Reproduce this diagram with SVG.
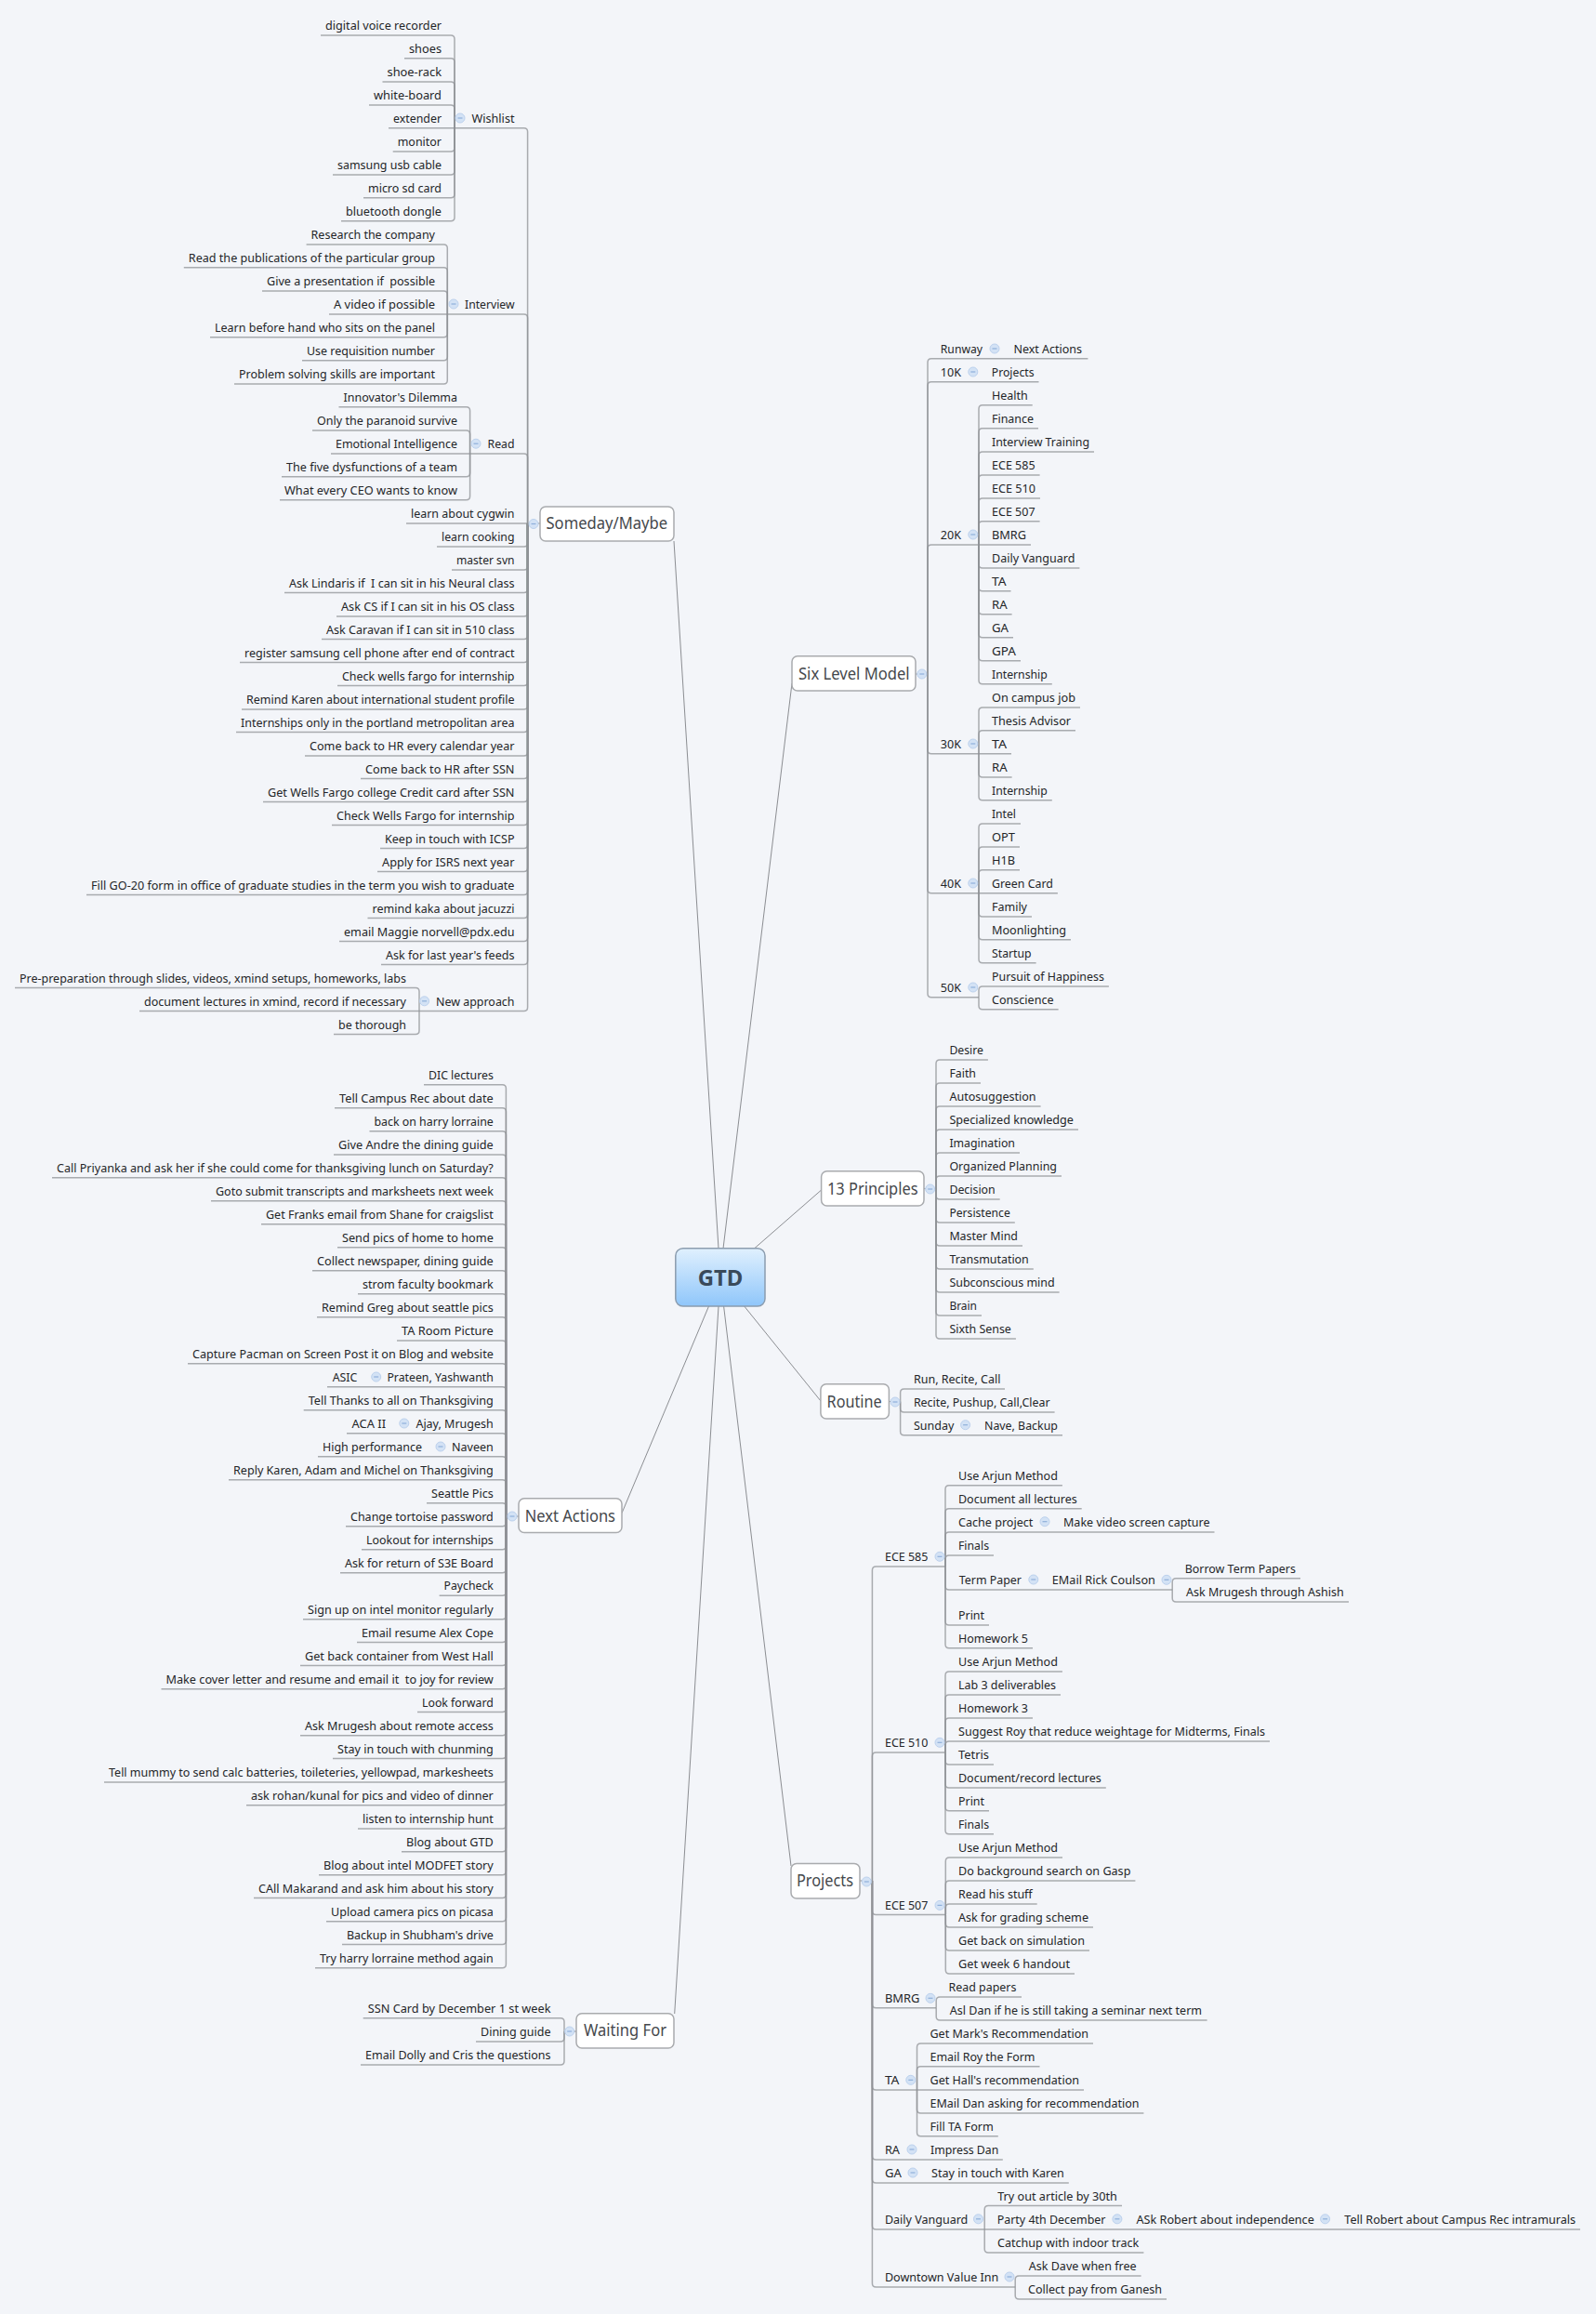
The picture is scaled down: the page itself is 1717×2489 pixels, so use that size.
<svg xmlns="http://www.w3.org/2000/svg" width="1717" height="2489" viewBox="0 0 1717 2489">
<style>
text{font-family:"Noto Sans","Open Sans","Liberation Sans",sans-serif;font-size:13px;fill:#232528;white-space:pre}
.t text{font-size:18px;fill:#45484c}
.t rect{fill:#fff;stroke:#a9abae;stroke-width:1.5}
#connectors path{fill:none;stroke:#8f9196;stroke-opacity:.75;stroke-width:1.5}
#connectors .m{stroke:#808286;stroke-opacity:.9;stroke-width:1}
#ic circle{fill:#d3e2f5;stroke:#bcd1ed;stroke-width:1}
#ic path{stroke:#8fb0da;stroke-width:1.2;fill:none}
</style>
<defs>
<linearGradient id="gt" x1="0" y1="0" x2="0" y2="1"><stop offset="0" stop-color="#e0f0fe"/><stop offset="1" stop-color="#8fc6fa"/></linearGradient>
<g id="ic"><circle r="5"/><path d="M-2.5 0H2.5"/></g>
</defs>
<rect width="1717" height="2489" fill="#f3f5f9"/>
<g id="connectors">
<path class="m" d="M725 582L773 1343"/><path class="m" d="M852 735L778 1343"/><path class="m" d="M883.6 1280L811.4 1343"/><path class="m" d="M883 1507L800.7 1405"/><path class="m" d="M669 1627.5L762.5 1405"/><path class="m" d="M851 2007L778.6 1405"/><path class="m" d="M725.7 2166L773 1405"/>
<path class="m" d="M581 563H567.6"/><path class="m" d="M985 725H998"/><path class="m" d="M994 1278.5H1007"/><path class="m" d="M956.4 1507.5H968.6"/><path class="m" d="M925 2023H938.4"/><path class="m" d="M558 1631H544.4"/><path class="m" d="M620 2185H607"/>
<path d="M567.6 563V141.8q0-4-4-4H489"/><path d="M567.6 563V341.9q0-4-4-4H481.3"/><path d="M567.6 563V492q0-4-4-4H505.6"/><path d="M567.6 563H437"/><path d="M567.6 563V583.9q0 4-4 4H470"/><path d="M567.6 563V608.9q0 4-4 4H486"/><path d="M567.6 563V633.5q0 4-4 4H306"/><path d="M567.6 563V658.9q0 4-4 4H362"/><path d="M567.6 563V683.5q0 4-4 4H346"/><path d="M567.6 563V708.5q0 4-4 4H258"/><path d="M567.6 563V733.5q0 4-4 4H363"/><path d="M567.6 563V758.9q0 4-4 4H260"/><path d="M567.6 563V783.5q0 4-4 4H254"/><path d="M567.6 563V808.9q0 4-4 4H328"/><path d="M567.6 563V833.5q0 4-4 4H388"/><path d="M567.6 563V858.5q0 4-4 4H283"/><path d="M567.6 563V883.5q0 4-4 4H357"/><path d="M567.6 563V908.5q0 4-4 4H409"/><path d="M567.6 563V933.5q0 4-4 4H406"/><path d="M567.6 563V958.5q0 4-4 4H93"/><path d="M567.6 563V983.5q0 4-4 4H395.5"/><path d="M567.6 563V1008.5q0 4-4 4H365"/><path d="M567.6 563V1033.5q0 4-4 4H410"/><path d="M567.6 563V1083.5q0 4-4 4H451"/>
<path d="M489 137.8V41.9q0-4-4-4H345"/><path d="M489 137.8V66.8q0-4-4-4H435"/><path d="M489 137.8V92q0-4-4-4H411.5"/><path d="M489 137.8V116.9q0-4-4-4H397"/><path d="M489 137.8H418"/><path d="M489 137.8V159q0 4-4 4H422.7"/><path d="M489 137.8V183.9q0 4-4 4H358"/><path d="M489 137.8V208.8q0 4-4 4H391"/><path d="M489 137.8V233.7q0 4-4 4H367"/>
<path d="M481.3 337.9V266.9q0-4-4-4H329.6"/><path d="M481.3 337.9V291.8q0-4-4-4H197.8"/><path d="M481.3 337.9V317q0-4-4-4H282"/><path d="M481.3 337.9H354"/><path d="M481.3 337.9V358.8q0 4-4 4H226"/><path d="M481.3 337.9V383.7q0 4-4 4H325"/><path d="M481.3 337.9V408.9q0 4-4 4H252"/>
<path d="M505.6 488V441.8q0-4-4-4H364.5"/><path d="M505.6 488V467q0-4-4-4H336"/><path d="M505.6 488H356"/><path d="M505.6 488V508.8q0 4-4 4H303"/><path d="M505.6 488V533.7q0 4-4 4H301"/>
<path d="M451 1087.5V1066.5q0-4-4-4H16"/><path d="M451 1087.5H150"/><path d="M451 1087.5V1108.5q0 4-4 4H359"/>
<path d="M544.4 1631V1170.8q0-4-4-4H456"/><path d="M544.4 1631V1195.8q0-4-4-4H360"/><path d="M544.4 1631V1220.8q0-4-4-4H397.5"/><path d="M544.4 1631V1246q0-4-4-4H359"/><path d="M544.4 1631V1270.8q0-4-4-4H56"/><path d="M544.4 1631V1295.8q0-4-4-4H227"/><path d="M544.4 1631V1320.8q0-4-4-4H281"/><path d="M544.4 1631V1345.8q0-4-4-4H363"/><path d="M544.4 1631V1370.8q0-4-4-4H336"/><path d="M544.4 1631V1395.8q0-4-4-4H385"/><path d="M544.4 1631V1420.8q0-4-4-4H341"/><path d="M544.4 1631V1446q0-4-4-4H427"/><path d="M544.4 1631V1470.8q0-4-4-4H202"/><path d="M544.4 1631V1495.8q0-4-4-4H352"/><path d="M544.4 1631V1520.8q0-4-4-4H326.7"/><path d="M544.4 1631V1545.8q0-4-4-4H373"/><path d="M544.4 1631V1570.8q0-4-4-4H342"/><path d="M544.4 1631V1595.8q0-4-4-4H246"/><path d="M544.4 1631V1620.8q0-4-4-4H459"/><path d="M544.4 1631V1637.8q0 4-4 4H372"/><path d="M544.4 1631V1662.8q0 4-4 4H389"/><path d="M544.4 1631V1687.8q0 4-4 4H366"/><path d="M544.4 1631V1712.2q0 4-4 4H472.6"/><path d="M544.4 1631V1737.7q0 4-4 4H326"/><path d="M544.4 1631V1762.5q0 4-4 4H384"/><path d="M544.4 1631V1787.6q0 4-4 4H323"/><path d="M544.4 1631V1812.7q0 4-4 4H173.5"/><path d="M544.4 1631V1837.5q0 4-4 4H449"/><path d="M544.4 1631V1862.7q0 4-4 4H323"/><path d="M544.4 1631V1887.5q0 4-4 4H358"/><path d="M544.4 1631V1913q0 4-4 4H112"/><path d="M544.4 1631V1937.7q0 4-4 4H265"/><path d="M544.4 1631V1962.9q0 4-4 4H385"/><path d="M544.4 1631V1987.7q0 4-4 4H432"/><path d="M544.4 1631V2012.8q0 4-4 4H343"/><path d="M544.4 1631V2037.6q0 4-4 4H273"/><path d="M544.4 1631V2062.7q0 4-4 4H351"/><path d="M544.4 1631V2087.5q0 4-4 4H368"/><path d="M544.4 1631V2112.7q0 4-4 4H339"/>
<path d="M607 2185V2174.7q0-4-4-4H390.7"/><path d="M607 2185V2192q0 4-4 4H512"/><path d="M607 2185V2217q0 4-4 4H388"/>
<path d="M998 725V389.7q0-4 4-4H1170.4"/><path d="M998 725V414.7q0-4 4-4H1117.5"/><path d="M998 725V590q0-4 4-4H1053"/><path d="M998 725V806.7q0 4 4 4H1053"/><path d="M998 725V956.7q0 4 4 4H1053"/><path d="M998 725V1068.7q0 4 4 4H1053"/>
<path d="M1053 586V439.7q0-4 4-4H1110.7"/><path d="M1053 586V464.7q0-4 4-4H1117"/><path d="M1053 586V490q0-4 4-4H1177"/><path d="M1053 586V515q0-4 4-4H1118.6"/><path d="M1053 586V540q0-4 4-4H1119"/><path d="M1053 586V564.7q0-4 4-4H1118.6"/><path d="M1053 586H1109"/><path d="M1053 586V607q0 4 4 4H1161.4"/><path d="M1053 586V631.7q0 4 4 4H1087.5"/><path d="M1053 586V656.7q0 4 4 4H1088.6"/><path d="M1053 586V681.7q0 4 4 4H1090"/><path d="M1053 586V706.7q0 4 4 4H1098"/><path d="M1053 586V731.7q0 4 4 4H1131.8"/>
<path d="M1053 810.7V765q0-4 4-4H1162"/><path d="M1053 810.7V789.7q0-4 4-4H1157"/><path d="M1053 810.7H1088"/><path d="M1053 810.7V832q0 4 4 4H1088.6"/><path d="M1053 810.7V856.7q0 4 4 4H1131.8"/>
<path d="M1053 960.7V890q0-4 4-4H1098"/><path d="M1053 960.7V915q0-4 4-4H1097"/><path d="M1053 960.7V939.7q0-4 4-4H1097"/><path d="M1053 960.7H1137.9"/><path d="M1053 960.7V982q0 4 4 4H1110"/><path d="M1053 960.7V1006.7q0 4 4 4H1152"/><path d="M1053 960.7V1031.7q0 4 4 4H1114.6"/>
<path d="M1053 1072.7V1065q0-4 4-4H1192.9"/><path d="M1053 1072.7V1081.7q0 4 4 4H1138.6"/>
<path d="M1007 1278.5V1144q0-4 4-4H1062.9"/><path d="M1007 1278.5V1169q0-4 4-4H1055"/><path d="M1007 1278.5V1194q0-4 4-4H1119.6"/><path d="M1007 1278.5V1219q0-4 4-4H1160"/><path d="M1007 1278.5V1244q0-4 4-4H1097"/><path d="M1007 1278.5V1269q0-4 4-4H1142"/><path d="M1007 1278.5V1286q0 4 4 4H1075.7"/><path d="M1007 1278.5V1311q0 4 4 4H1091.8"/><path d="M1007 1278.5V1336q0 4 4 4H1100"/><path d="M1007 1278.5V1361q0 4 4 4H1111.8"/><path d="M1007 1278.5V1386q0 4 4 4H1139.6"/><path d="M1007 1278.5V1411q0 4 4 4H1056"/><path d="M1007 1278.5V1436q0 4 4 4H1092.9"/>
<path d="M968.6 1507.5V1498q0-4 4-4H1081"/><path d="M968.6 1507.5V1515q0 4 4 4H1134.6"/><path d="M968.6 1507.5V1539.7q0 4 4 4H1143"/>
<path d="M938.4 2023V1689q0-4 4-4H1017"/><path d="M938.4 2023V1889q0-4 4-4H1017"/><path d="M938.4 2023V2055.5q0 4 4 4H1017.3"/><path d="M938.4 2023V2155.7q0 4 4 4H1007.2"/><path d="M938.4 2023V2244q0 4 4 4H986.5"/><path d="M938.4 2023V2319q0 4 4 4H1078.8"/><path d="M938.4 2023V2344q0 4 4 4H1149.8"/><path d="M938.4 2023V2394q0 4 4 4H1059.2"/><path d="M938.4 2023V2456q0 4 4 4H1092.2"/>
<path d="M1017 1685V1601.7q0-4 4-4H1142.9"/><path d="M1017 1685V1626.7q0-4 4-4H1163.7"/><path d="M1017 1685V1652q0-4 4-4H1306.5"/><path d="M1017 1685V1677q0-4 4-4H1069"/><path d="M1017 1685V1706q0 4 4 4H1261.2"/><path d="M1017 1685V1744q0 4 4 4H1064"/><path d="M1017 1685V1768.7q0 4 4 4H1111"/>
<path d="M1261.2 1710V1701.7q0-4 4-4H1399"/><path d="M1261.2 1710V1719q0 4 4 4H1451"/>
<path d="M1017 1885V1802q0-4 4-4H1142.9"/><path d="M1017 1885V1827q0-4 4-4H1141"/><path d="M1017 1885V1852q0-4 4-4H1111"/><path d="M1017 1885V1877q0-4 4-4H1366"/><path d="M1017 1885V1894q0 4 4 4H1069"/><path d="M1017 1885V1919q0 4 4 4H1189.8"/><path d="M1017 1885V1943.7q0 4 4 4H1064"/><path d="M1017 1885V1968.7q0 4 4 4H1069"/>
<path d="M1017.3 2059.5V2002q0-4 4-4H1143"/><path d="M1017.3 2059.5V2027q0-4 4-4H1221.4"/><path d="M1017.3 2059.5V2052q0-4 4-4H1115.7"/><path d="M1017.3 2059.5V2069q0 4 4 4H1176"/><path d="M1017.3 2059.5V2094q0 4 4 4H1172"/><path d="M1017.3 2059.5V2119q0 4 4 4H1156"/>
<path d="M1007.2 2159.7V2152q0-4 4-4H1099"/><path d="M1007.2 2159.7V2168.9q0 4 4 4H1298.6"/>
<path d="M986.5 2248V2201.9q0-4 4-4H1176"/><path d="M986.5 2248V2226.8q0-4 4-4H1118.5"/><path d="M986.5 2248H1166"/><path d="M986.5 2248V2269q0 4 4 4H1230.4"/><path d="M986.5 2248V2293.7q0 4 4 4H1073.8"/>
<path d="M1059.2 2398V2376.6q0-4 4-4H1207"/><path d="M1059.2 2398H1700"/><path d="M1059.2 2398V2419q0 4 4 4H1230.4"/>
<path d="M1092.2 2460V2451.9q0-4 4-4H1227.6"/><path d="M1092.2 2460V2469q0 4 4 4H1255"/>
</g>
<g id="icons">
<use href="#ic" x="574" y="563.5"/><use href="#ic" x="495" y="127"/><use href="#ic" x="488" y="327"/><use href="#ic" x="512" y="477.2"/><use href="#ic" x="456.6" y="1076.8"/>
<use href="#ic" x="551" y="1631"/><use href="#ic" x="404.7" y="1481"/><use href="#ic" x="434.8" y="1531"/><use href="#ic" x="474" y="1556"/><use href="#ic" x="612.7" y="2185"/>
<use href="#ic" x="991.8" y="725"/><use href="#ic" x="1070" y="375"/><use href="#ic" x="1046.8" y="400"/><use href="#ic" x="1046.8" y="575"/><use href="#ic" x="1046.8" y="800"/><use href="#ic" x="1046.8" y="950"/><use href="#ic" x="1046.8" y="1062"/>
<use href="#ic" x="1000.7" y="1279"/><use href="#ic" x="963" y="1508"/><use href="#ic" x="1038.6" y="1532.7"/>
<use href="#ic" x="932.3" y="2024"/><use href="#ic" x="1011" y="1674.3"/><use href="#ic" x="1124" y="1636.7"/><use href="#ic" x="1111.8" y="1699"/><use href="#ic" x="1255" y="1699.3"/><use href="#ic" x="1011" y="1874.3"/><use href="#ic" x="1011" y="2049.4"/><use href="#ic" x="1001" y="2149.3"/><use href="#ic" x="979.8" y="2237.3"/><use href="#ic" x="981" y="2312"/><use href="#ic" x="982" y="2337"/><use href="#ic" x="1052.5" y="2386.8"/><use href="#ic" x="1201.9" y="2386.8"/><use href="#ic" x="1425.6" y="2386.8"/><use href="#ic" x="1086" y="2449"/>
</g>
<g id="topics" class="t">
<g id="gtd"><rect x="726.8" y="1342.7" width="96.2" height="62.3" rx="8" style="fill:url(#gt);stroke:#8b9cae"/><text x="750.7" y="1382.5" textLength="48.6" lengthAdjust="spacingAndGlyphs" style="font-size:23px;font-weight:700;fill:#3a4a5a">GTD</text></g>
<g id="someday"><rect x="581" y="545" width="144" height="37" rx="6"/><text x="587.5" y="569" textLength="130.5" lengthAdjust="spacingAndGlyphs">Someday/Maybe</text></g>
<g id="sixlevel"><rect x="852" y="705.7" width="133" height="37.3" rx="6"/><text x="859" y="731" textLength="119.6" lengthAdjust="spacingAndGlyphs">Six Level Model</text></g>
<g id="principles"><rect x="883.6" y="1259.7" width="110.4" height="37.3" rx="6"/><text x="890" y="1284.5" textLength="97.5" lengthAdjust="spacingAndGlyphs">13 Principles</text></g>
<g id="routine"><rect x="882.9" y="1488.7" width="73.5" height="37.3" rx="6"/><text x="889.6" y="1513.5" textLength="59" lengthAdjust="spacingAndGlyphs">Routine</text></g>
<g id="projects"><rect x="851" y="2004.5" width="74" height="37.5" rx="6"/><text x="857" y="2029" textLength="61" lengthAdjust="spacingAndGlyphs">Projects</text></g>
<g id="nextactions"><rect x="558" y="1611.8" width="111" height="36.8" rx="6"/><text x="564.7" y="1636.5" textLength="97.3" lengthAdjust="spacingAndGlyphs">Next Actions</text></g>
<g id="waiting"><rect x="620" y="2165.7" width="105" height="37.3" rx="6"/><text x="628" y="2190" textLength="89" lengthAdjust="spacingAndGlyphs">Waiting For</text></g>
</g>
<g id="nodes" transform="translate(0 -6)">
<g id="n1"><text lengthAdjust="spacingAndGlyphs" x="507.5" y="137.8" textLength="46">Wishlist</text></g>
<g id="n2"><text lengthAdjust="spacingAndGlyphs" x="350" y="37.9" textLength="125">digital voice recorder</text></g>
<g id="n3"><text lengthAdjust="spacingAndGlyphs" x="440" y="62.8" textLength="35">shoes</text></g>
<g id="n4"><text lengthAdjust="spacingAndGlyphs" x="416.5" y="88" textLength="58.5">shoe-rack</text></g>
<g id="n5"><text lengthAdjust="spacingAndGlyphs" x="402" y="112.9" textLength="73">white-board</text></g>
<g id="n6"><text lengthAdjust="spacingAndGlyphs" x="423" y="137.8" textLength="52">extender</text></g>
<g id="n7"><text lengthAdjust="spacingAndGlyphs" x="427.7" y="163" textLength="47.3">monitor</text></g>
<g id="n8"><text lengthAdjust="spacingAndGlyphs" x="363" y="187.9" textLength="112">samsung usb cable</text></g>
<g id="n9"><text lengthAdjust="spacingAndGlyphs" x="396" y="212.8" textLength="79">micro sd card</text></g>
<g id="n10"><text lengthAdjust="spacingAndGlyphs" x="372" y="237.7" textLength="103">bluetooth dongle</text></g>
<g id="n11"><text lengthAdjust="spacingAndGlyphs" x="500" y="337.9" textLength="53.5">Interview</text></g>
<g id="n12"><text lengthAdjust="spacingAndGlyphs" x="334.6" y="262.9" textLength="133.4">Research the company</text></g>
<g id="n13"><text lengthAdjust="spacingAndGlyphs" x="202.8" y="287.8" textLength="265.2">Read the publications of the particular group</text></g>
<g id="n14"><text lengthAdjust="spacingAndGlyphs" x="287" y="313" textLength="181">Give a presentation if  possible</text></g>
<g id="n15"><text lengthAdjust="spacingAndGlyphs" x="359" y="337.9" textLength="109">A video if possible</text></g>
<g id="n16"><text lengthAdjust="spacingAndGlyphs" x="231" y="362.8" textLength="237">Learn before hand who sits on the panel</text></g>
<g id="n17"><text lengthAdjust="spacingAndGlyphs" x="330" y="387.7" textLength="138">Use requisition number</text></g>
<g id="n18"><text lengthAdjust="spacingAndGlyphs" x="257" y="412.9" textLength="211">Problem solving skills are important</text></g>
<g id="n19"><text lengthAdjust="spacingAndGlyphs" x="524.5" y="488" textLength="29">Read</text></g>
<g id="n20"><text lengthAdjust="spacingAndGlyphs" x="369.5" y="437.8" textLength="122.5">Innovator's Dilemma</text></g>
<g id="n21"><text lengthAdjust="spacingAndGlyphs" x="341" y="463" textLength="151">Only the paranoid survive</text></g>
<g id="n22"><text lengthAdjust="spacingAndGlyphs" x="361" y="488" textLength="131">Emotional Intelligence</text></g>
<g id="n23"><text lengthAdjust="spacingAndGlyphs" x="308" y="512.8" textLength="184">The five dysfunctions of a team</text></g>
<g id="n24"><text lengthAdjust="spacingAndGlyphs" x="306" y="537.7" textLength="186">What every CEO wants to know</text></g>
<g id="n25"><text lengthAdjust="spacingAndGlyphs" x="442" y="563" textLength="111.5">learn about cygwin</text></g>
<g id="n26"><text lengthAdjust="spacingAndGlyphs" x="475" y="587.9" textLength="78.5">learn cooking</text></g>
<g id="n27"><text lengthAdjust="spacingAndGlyphs" x="491" y="612.9" textLength="62.5">master svn</text></g>
<g id="n28"><text lengthAdjust="spacingAndGlyphs" x="311" y="637.5" textLength="242.5">Ask Lindaris if  I can sit in his Neural class</text></g>
<g id="n29"><text lengthAdjust="spacingAndGlyphs" x="367" y="662.9" textLength="186.5">Ask CS if I can sit in his OS class</text></g>
<g id="n30"><text lengthAdjust="spacingAndGlyphs" x="351" y="687.5" textLength="202.5">Ask Caravan if I can sit in 510 class</text></g>
<g id="n31"><text lengthAdjust="spacingAndGlyphs" x="263" y="712.5" textLength="290.5">register samsung cell phone after end of contract</text></g>
<g id="n32"><text lengthAdjust="spacingAndGlyphs" x="368" y="737.5" textLength="185.5">Check wells fargo for internship</text></g>
<g id="n33"><text lengthAdjust="spacingAndGlyphs" x="265" y="762.9" textLength="288.5">Remind Karen about international student profile</text></g>
<g id="n34"><text lengthAdjust="spacingAndGlyphs" x="259" y="787.5" textLength="294.5">Internships only in the portland metropolitan area</text></g>
<g id="n35"><text lengthAdjust="spacingAndGlyphs" x="333" y="812.9" textLength="220.5">Come back to HR every calendar year</text></g>
<g id="n36"><text lengthAdjust="spacingAndGlyphs" x="393" y="837.5" textLength="160.5">Come back to HR after SSN</text></g>
<g id="n37"><text lengthAdjust="spacingAndGlyphs" x="288" y="862.5" textLength="265.5">Get Wells Fargo college Credit card after SSN</text></g>
<g id="n38"><text lengthAdjust="spacingAndGlyphs" x="362" y="887.5" textLength="191.5">Check Wells Fargo for internship</text></g>
<g id="n39"><text lengthAdjust="spacingAndGlyphs" x="414" y="912.5" textLength="139.5">Keep in touch with ICSP</text></g>
<g id="n40"><text lengthAdjust="spacingAndGlyphs" x="411" y="937.5" textLength="142.5">Apply for ISRS next year</text></g>
<g id="n41"><text lengthAdjust="spacingAndGlyphs" x="98" y="962.5" textLength="455.5">Fill GO-20 form in office of graduate studies in the term you wish to graduate</text></g>
<g id="n42"><text lengthAdjust="spacingAndGlyphs" x="400.5" y="987.5" textLength="153">remind kaka about jacuzzi</text></g>
<g id="n43"><text lengthAdjust="spacingAndGlyphs" x="370" y="1012.5" textLength="183.5">email Maggie norvell@pdx.edu</text></g>
<g id="n44"><text lengthAdjust="spacingAndGlyphs" x="415" y="1037.5" textLength="138.5">Ask for last year's feeds</text></g>
<g id="n45"><text lengthAdjust="spacingAndGlyphs" x="469" y="1087.5" textLength="84.5">New approach</text></g>
<g id="n46"><text lengthAdjust="spacingAndGlyphs" x="21" y="1062.5" textLength="416">Pre-preparation through slides, videos, xmind setups, homeworks, labs</text></g>
<g id="n47"><text lengthAdjust="spacingAndGlyphs" x="155" y="1087.5" textLength="282">document lectures in xmind, record if necessary</text></g>
<g id="n48"><text lengthAdjust="spacingAndGlyphs" x="364" y="1112.5" textLength="73">be thorough</text></g>
<g id="n49"><text lengthAdjust="spacingAndGlyphs" x="461" y="1166.8" textLength="69.8">DIC lectures</text></g>
<g id="n50"><text lengthAdjust="spacingAndGlyphs" x="365" y="1191.8" textLength="165.8">Tell Campus Rec about date</text></g>
<g id="n51"><text lengthAdjust="spacingAndGlyphs" x="402.5" y="1216.8" textLength="128.3">back on harry lorraine</text></g>
<g id="n52"><text lengthAdjust="spacingAndGlyphs" x="364" y="1242" textLength="166.8">Give Andre the dining guide</text></g>
<g id="n53"><text lengthAdjust="spacingAndGlyphs" x="61" y="1266.8" textLength="469.8">Call Priyanka and ask her if she could come for thanksgiving lunch on Saturday?</text></g>
<g id="n54"><text lengthAdjust="spacingAndGlyphs" x="232" y="1291.8" textLength="298.8">Goto submit transcripts and marksheets next week</text></g>
<g id="n55"><text lengthAdjust="spacingAndGlyphs" x="286" y="1316.8" textLength="244.8">Get Franks email from Shane for craigslist</text></g>
<g id="n56"><text lengthAdjust="spacingAndGlyphs" x="368" y="1341.8" textLength="162.8">Send pics of home to home</text></g>
<g id="n57"><text lengthAdjust="spacingAndGlyphs" x="341" y="1366.8" textLength="189.8">Collect newspaper, dining guide</text></g>
<g id="n58"><text lengthAdjust="spacingAndGlyphs" x="390" y="1391.8" textLength="140.8">strom faculty bookmark</text></g>
<g id="n59"><text lengthAdjust="spacingAndGlyphs" x="346" y="1416.8" textLength="184.8">Remind Greg about seattle pics</text></g>
<g id="n60"><text lengthAdjust="spacingAndGlyphs" x="432" y="1442" textLength="98.8">TA Room Picture</text></g>
<g id="n61"><text lengthAdjust="spacingAndGlyphs" x="207" y="1466.8" textLength="323.8">Capture Pacman on Screen Post it on Blog and website</text></g>
<g id="n62"><text lengthAdjust="spacingAndGlyphs" x="357.7" y="1491.8" textLength="26.7">ASIC</text></g>
<g id="n63"><text lengthAdjust="spacingAndGlyphs" x="416.4" y="1491.8" textLength="114.4">Prateen, Yashwanth</text></g>
<g id="n64"><text lengthAdjust="spacingAndGlyphs" x="331.7" y="1516.8" textLength="199.1">Tell Thanks to all on Thanksgiving</text></g>
<g id="n65"><text lengthAdjust="spacingAndGlyphs" x="378.6" y="1541.8" textLength="36.4">ACA II</text></g>
<g id="n66"><text lengthAdjust="spacingAndGlyphs" x="447.4" y="1541.8" textLength="83.4">Ajay, Mrugesh</text></g>
<g id="n67"><text lengthAdjust="spacingAndGlyphs" x="347" y="1566.8" textLength="107">High performance</text></g>
<g id="n68"><text lengthAdjust="spacingAndGlyphs" x="486" y="1566.8" textLength="44.8">Naveen</text></g>
<g id="n69"><text lengthAdjust="spacingAndGlyphs" x="251" y="1591.8" textLength="279.8">Reply Karen, Adam and Michel on Thanksgiving</text></g>
<g id="n70"><text lengthAdjust="spacingAndGlyphs" x="464" y="1616.8" textLength="66.8">Seattle Pics</text></g>
<g id="n71"><text lengthAdjust="spacingAndGlyphs" x="377" y="1641.8" textLength="153.8">Change tortoise password</text></g>
<g id="n72"><text lengthAdjust="spacingAndGlyphs" x="394" y="1666.8" textLength="136.8">Lookout for internships</text></g>
<g id="n73"><text lengthAdjust="spacingAndGlyphs" x="371" y="1691.8" textLength="159.8">Ask for return of S3E Board</text></g>
<g id="n74"><text lengthAdjust="spacingAndGlyphs" x="477.6" y="1716.2" textLength="53.2">Paycheck</text></g>
<g id="n75"><text lengthAdjust="spacingAndGlyphs" x="331" y="1741.7" textLength="199.8">Sign up on intel monitor regularly</text></g>
<g id="n76"><text lengthAdjust="spacingAndGlyphs" x="389" y="1766.5" textLength="141.8">Email resume Alex Cope</text></g>
<g id="n77"><text lengthAdjust="spacingAndGlyphs" x="328" y="1791.6" textLength="202.8">Get back container from West Hall</text></g>
<g id="n78"><text lengthAdjust="spacingAndGlyphs" x="178.5" y="1816.7" textLength="352.3">Make cover letter and resume and email it  to joy for review</text></g>
<g id="n79"><text lengthAdjust="spacingAndGlyphs" x="454" y="1841.5" textLength="76.8">Look forward</text></g>
<g id="n80"><text lengthAdjust="spacingAndGlyphs" x="328" y="1866.7" textLength="202.8">Ask Mrugesh about remote access</text></g>
<g id="n81"><text lengthAdjust="spacingAndGlyphs" x="363" y="1891.5" textLength="167.8">Stay in touch with chunming</text></g>
<g id="n82"><text lengthAdjust="spacingAndGlyphs" x="117" y="1917" textLength="413.8">Tell mummy to send calc batteries, toileteries, yellowpad, markesheets</text></g>
<g id="n83"><text lengthAdjust="spacingAndGlyphs" x="270" y="1941.7" textLength="260.8">ask rohan/kunal for pics and video of dinner</text></g>
<g id="n84"><text lengthAdjust="spacingAndGlyphs" x="390" y="1966.9" textLength="140.8">listen to internship hunt</text></g>
<g id="n85"><text lengthAdjust="spacingAndGlyphs" x="437" y="1991.7" textLength="93.8">Blog about GTD</text></g>
<g id="n86"><text lengthAdjust="spacingAndGlyphs" x="348" y="2016.8" textLength="182.8">Blog about intel MODFET story</text></g>
<g id="n87"><text lengthAdjust="spacingAndGlyphs" x="278" y="2041.6" textLength="252.8">CAll Makarand and ask him about his story</text></g>
<g id="n88"><text lengthAdjust="spacingAndGlyphs" x="356" y="2066.7" textLength="174.8">Upload camera pics on picasa</text></g>
<g id="n89"><text lengthAdjust="spacingAndGlyphs" x="373" y="2091.5" textLength="157.8">Backup in Shubham's drive</text></g>
<g id="n90"><text lengthAdjust="spacingAndGlyphs" x="344" y="2116.7" textLength="186.8">Try harry lorraine method again</text></g>
<g id="n91"><text lengthAdjust="spacingAndGlyphs" x="395.7" y="2170.7" textLength="196.8">SSN Card by December 1 st week</text></g>
<g id="n92"><text lengthAdjust="spacingAndGlyphs" x="517" y="2196" textLength="75.5">Dining guide</text></g>
<g id="n93"><text lengthAdjust="spacingAndGlyphs" x="393" y="2221" textLength="199.5">Email Dolly and Cris the questions</text></g>
<g id="n94"><text lengthAdjust="spacingAndGlyphs" x="1011.8" y="385.7" textLength="45.2">Runway</text></g>
<g id="n95"><text lengthAdjust="spacingAndGlyphs" x="1090.4" y="385.7" textLength="73.6">Next Actions</text></g>
<g id="n96"><text lengthAdjust="spacingAndGlyphs" x="1011.8" y="410.7" textLength="22.2">10K</text></g>
<g id="n97"><text lengthAdjust="spacingAndGlyphs" x="1066.8" y="410.7" textLength="45.7">Projects</text></g>
<g id="n98"><text lengthAdjust="spacingAndGlyphs" x="1011.8" y="586" textLength="22.2">20K</text></g>
<g id="n99"><text lengthAdjust="spacingAndGlyphs" x="1067" y="435.7" textLength="38.7">Health</text></g>
<g id="n100"><text lengthAdjust="spacingAndGlyphs" x="1067" y="460.7" textLength="45">Finance</text></g>
<g id="n101"><text lengthAdjust="spacingAndGlyphs" x="1067" y="486" textLength="105">Interview Training</text></g>
<g id="n102"><text lengthAdjust="spacingAndGlyphs" x="1067" y="511" textLength="46.6">ECE 585</text></g>
<g id="n103"><text lengthAdjust="spacingAndGlyphs" x="1067" y="536" textLength="47">ECE 510</text></g>
<g id="n104"><text lengthAdjust="spacingAndGlyphs" x="1067" y="560.7" textLength="46.6">ECE 507</text></g>
<g id="n105"><text lengthAdjust="spacingAndGlyphs" x="1067" y="586" textLength="37">BMRG</text></g>
<g id="n106"><text lengthAdjust="spacingAndGlyphs" x="1067" y="611" textLength="89.4">Daily Vanguard</text></g>
<g id="n107"><text lengthAdjust="spacingAndGlyphs" x="1067" y="635.7" textLength="15.5">TA</text></g>
<g id="n108"><text lengthAdjust="spacingAndGlyphs" x="1067" y="660.7" textLength="16.6">RA</text></g>
<g id="n109"><text lengthAdjust="spacingAndGlyphs" x="1067" y="685.7" textLength="18">GA</text></g>
<g id="n110"><text lengthAdjust="spacingAndGlyphs" x="1067" y="710.7" textLength="26">GPA</text></g>
<g id="n111"><text lengthAdjust="spacingAndGlyphs" x="1067" y="735.7" textLength="59.8">Internship</text></g>
<g id="n112"><text lengthAdjust="spacingAndGlyphs" x="1011.8" y="810.7" textLength="22.2">30K</text></g>
<g id="n113"><text lengthAdjust="spacingAndGlyphs" x="1067" y="761" textLength="90">On campus job</text></g>
<g id="n114"><text lengthAdjust="spacingAndGlyphs" x="1067" y="785.7" textLength="85">Thesis Advisor</text></g>
<g id="n115"><text lengthAdjust="spacingAndGlyphs" x="1067" y="810.7" textLength="16">TA</text></g>
<g id="n116"><text lengthAdjust="spacingAndGlyphs" x="1067" y="836" textLength="16.6">RA</text></g>
<g id="n117"><text lengthAdjust="spacingAndGlyphs" x="1067" y="860.7" textLength="59.8">Internship</text></g>
<g id="n118"><text lengthAdjust="spacingAndGlyphs" x="1011.8" y="960.7" textLength="22.2">40K</text></g>
<g id="n119"><text lengthAdjust="spacingAndGlyphs" x="1067" y="886" textLength="26">Intel</text></g>
<g id="n120"><text lengthAdjust="spacingAndGlyphs" x="1067" y="911" textLength="25">OPT</text></g>
<g id="n121"><text lengthAdjust="spacingAndGlyphs" x="1067" y="935.7" textLength="25">H1B</text></g>
<g id="n122"><text lengthAdjust="spacingAndGlyphs" x="1067" y="960.7" textLength="65.9">Green Card</text></g>
<g id="n123"><text lengthAdjust="spacingAndGlyphs" x="1067" y="986" textLength="38">Family</text></g>
<g id="n124"><text lengthAdjust="spacingAndGlyphs" x="1067" y="1010.7" textLength="80">Moonlighting</text></g>
<g id="n125"><text lengthAdjust="spacingAndGlyphs" x="1067" y="1035.7" textLength="42.6">Startup</text></g>
<g id="n126"><text lengthAdjust="spacingAndGlyphs" x="1011.8" y="1072.7" textLength="22.2">50K</text></g>
<g id="n127"><text lengthAdjust="spacingAndGlyphs" x="1067" y="1061" textLength="120.9">Pursuit of Happiness</text></g>
<g id="n128"><text lengthAdjust="spacingAndGlyphs" x="1067" y="1085.7" textLength="66.6">Conscience</text></g>
<g id="n129"><text lengthAdjust="spacingAndGlyphs" x="1021.4" y="1140" textLength="36.5">Desire</text></g>
<g id="n130"><text lengthAdjust="spacingAndGlyphs" x="1021.4" y="1165" textLength="28.6">Faith</text></g>
<g id="n131"><text lengthAdjust="spacingAndGlyphs" x="1021.4" y="1190" textLength="93.2">Autosuggestion</text></g>
<g id="n132"><text lengthAdjust="spacingAndGlyphs" x="1021.4" y="1215" textLength="133.6">Specialized knowledge</text></g>
<g id="n133"><text lengthAdjust="spacingAndGlyphs" x="1021.4" y="1240" textLength="70.6">Imagination</text></g>
<g id="n134"><text lengthAdjust="spacingAndGlyphs" x="1021.4" y="1265" textLength="115.6">Organized Planning</text></g>
<g id="n135"><text lengthAdjust="spacingAndGlyphs" x="1021.4" y="1290" textLength="49.3">Decision</text></g>
<g id="n136"><text lengthAdjust="spacingAndGlyphs" x="1021.4" y="1315" textLength="65.4">Persistence</text></g>
<g id="n137"><text lengthAdjust="spacingAndGlyphs" x="1021.4" y="1340" textLength="73.6">Master Mind</text></g>
<g id="n138"><text lengthAdjust="spacingAndGlyphs" x="1021.4" y="1365" textLength="85.4">Transmutation</text></g>
<g id="n139"><text lengthAdjust="spacingAndGlyphs" x="1021.4" y="1390" textLength="113.2">Subconscious mind</text></g>
<g id="n140"><text lengthAdjust="spacingAndGlyphs" x="1021.4" y="1415" textLength="29.6">Brain</text></g>
<g id="n141"><text lengthAdjust="spacingAndGlyphs" x="1021.4" y="1440" textLength="66.5">Sixth Sense</text></g>
<g id="n142"><text lengthAdjust="spacingAndGlyphs" x="982.9" y="1494" textLength="93.5">Run, Recite, Call</text></g>
<g id="n143"><text lengthAdjust="spacingAndGlyphs" x="982.9" y="1519" textLength="146.7">Recite, Pushup, Call,Clear</text></g>
<g id="n144"><text lengthAdjust="spacingAndGlyphs" x="983" y="1543.7" textLength="43.4">Sunday</text></g>
<g id="n145"><text lengthAdjust="spacingAndGlyphs" x="1059" y="1543.7" textLength="78.9">Nave, Backup</text></g>
<g id="n146"><text lengthAdjust="spacingAndGlyphs" x="952" y="1685" textLength="46.4">ECE 585</text></g>
<g id="n147"><text lengthAdjust="spacingAndGlyphs" x="1031" y="1597.7" textLength="106.9">Use Arjun Method</text></g>
<g id="n148"><text lengthAdjust="spacingAndGlyphs" x="1031" y="1622.7" textLength="127.7">Document all lectures</text></g>
<g id="n149"><text lengthAdjust="spacingAndGlyphs" x="1031" y="1648" textLength="80.4">Cache project</text></g>
<g id="n150"><text lengthAdjust="spacingAndGlyphs" x="1144" y="1648" textLength="157.6">Make video screen capture</text></g>
<g id="n151"><text lengthAdjust="spacingAndGlyphs" x="1031" y="1673" textLength="33">Finals</text></g>
<g id="n152"><text lengthAdjust="spacingAndGlyphs" x="1031.8" y="1710" textLength="67.2">Term Paper</text></g>
<g id="n153"><text lengthAdjust="spacingAndGlyphs" x="1131.8" y="1710" textLength="111.1">EMail Rick Coulson</text></g>
<g id="n154"><text lengthAdjust="spacingAndGlyphs" x="1274.7" y="1697.7" textLength="119.2">Borrow Term Papers</text></g>
<g id="n155"><text lengthAdjust="spacingAndGlyphs" x="1276" y="1723" textLength="169.7">Ask Mrugesh through Ashish</text></g>
<g id="n156"><text lengthAdjust="spacingAndGlyphs" x="1031" y="1748" textLength="28">Print</text></g>
<g id="n157"><text lengthAdjust="spacingAndGlyphs" x="1031" y="1772.7" textLength="75">Homework 5</text></g>
<g id="n158"><text lengthAdjust="spacingAndGlyphs" x="952" y="1885" textLength="46.4">ECE 510</text></g>
<g id="n159"><text lengthAdjust="spacingAndGlyphs" x="1031" y="1798" textLength="106.9">Use Arjun Method</text></g>
<g id="n160"><text lengthAdjust="spacingAndGlyphs" x="1031" y="1823" textLength="105">Lab 3 deliverables</text></g>
<g id="n161"><text lengthAdjust="spacingAndGlyphs" x="1031" y="1848" textLength="75">Homework 3</text></g>
<g id="n162"><text lengthAdjust="spacingAndGlyphs" x="1031" y="1873" textLength="330">Suggest Roy that reduce weightage for Midterms, Finals</text></g>
<g id="n163"><text lengthAdjust="spacingAndGlyphs" x="1031" y="1898" textLength="33">Tetris</text></g>
<g id="n164"><text lengthAdjust="spacingAndGlyphs" x="1031" y="1923" textLength="153.8">Document/record lectures</text></g>
<g id="n165"><text lengthAdjust="spacingAndGlyphs" x="1031" y="1947.7" textLength="28">Print</text></g>
<g id="n166"><text lengthAdjust="spacingAndGlyphs" x="1031" y="1972.7" textLength="33">Finals</text></g>
<g id="n167"><text lengthAdjust="spacingAndGlyphs" x="952" y="2059.5" textLength="46.4">ECE 507</text></g>
<g id="n168"><text lengthAdjust="spacingAndGlyphs" x="1031" y="1998" textLength="107">Use Arjun Method</text></g>
<g id="n169"><text lengthAdjust="spacingAndGlyphs" x="1031" y="2023" textLength="185.4">Do background search on Gasp</text></g>
<g id="n170"><text lengthAdjust="spacingAndGlyphs" x="1031" y="2048" textLength="79.7">Read his stuff</text></g>
<g id="n171"><text lengthAdjust="spacingAndGlyphs" x="1031" y="2073" textLength="140">Ask for grading scheme</text></g>
<g id="n172"><text lengthAdjust="spacingAndGlyphs" x="1031" y="2098" textLength="136">Get back on simulation</text></g>
<g id="n173"><text lengthAdjust="spacingAndGlyphs" x="1031" y="2123" textLength="120">Get week 6 handout</text></g>
<g id="n174"><text lengthAdjust="spacingAndGlyphs" x="951.9" y="2159.7" textLength="37.4">BMRG</text></g>
<g id="n175"><text lengthAdjust="spacingAndGlyphs" x="1020.6" y="2148" textLength="72.8">Read papers</text></g>
<g id="n176"><text lengthAdjust="spacingAndGlyphs" x="1021.8" y="2172.9" textLength="271.2">Asl Dan if he is still taking a seminar next term</text></g>
<g id="n177"><text lengthAdjust="spacingAndGlyphs" x="951.9" y="2248" textLength="15.6">TA</text></g>
<g id="n178"><text lengthAdjust="spacingAndGlyphs" x="1000.5" y="2197.9" textLength="170.5">Get Mark's Recommendation</text></g>
<g id="n179"><text lengthAdjust="spacingAndGlyphs" x="1000.5" y="2222.8" textLength="113">Email Roy the Form</text></g>
<g id="n180"><text lengthAdjust="spacingAndGlyphs" x="1000.5" y="2248" textLength="160.5">Get Hall's recommendation</text></g>
<g id="n181"><text lengthAdjust="spacingAndGlyphs" x="1000.5" y="2273" textLength="224.9">EMail Dan asking for recommendation</text></g>
<g id="n182"><text lengthAdjust="spacingAndGlyphs" x="1000.5" y="2297.7" textLength="68.3">Fill TA Form</text></g>
<g id="n183"><text lengthAdjust="spacingAndGlyphs" x="951.9" y="2323" textLength="16.1">RA</text></g>
<g id="n184"><text lengthAdjust="spacingAndGlyphs" x="1001" y="2323" textLength="73.3">Impress Dan</text></g>
<g id="n185"><text lengthAdjust="spacingAndGlyphs" x="951.9" y="2348" textLength="17.9">GA</text></g>
<g id="n186"><text lengthAdjust="spacingAndGlyphs" x="1002" y="2348" textLength="142.8">Stay in touch with Karen</text></g>
<g id="n187"><text lengthAdjust="spacingAndGlyphs" x="951.9" y="2398" textLength="89.4">Daily Vanguard</text></g>
<g id="n188"><text lengthAdjust="spacingAndGlyphs" x="1073.2" y="2372.6" textLength="128.7">Try out article by 30th</text></g>
<g id="n189"><text lengthAdjust="spacingAndGlyphs" x="1072.7" y="2398" textLength="116.8">Party 4th December</text></g>
<g id="n190"><text lengthAdjust="spacingAndGlyphs" x="1222.5" y="2398" textLength="191.3">ASk Robert about independence</text></g>
<g id="n191"><text lengthAdjust="spacingAndGlyphs" x="1446.3" y="2398" textLength="248.7">Tell Robert about Campus Rec intramurals</text></g>
<g id="n192"><text lengthAdjust="spacingAndGlyphs" x="1073" y="2423" textLength="152.3">Catchup with indoor track</text></g>
<g id="n193"><text lengthAdjust="spacingAndGlyphs" x="951.9" y="2460" textLength="122.4">Downtown Value Inn</text></g>
<g id="n194"><text lengthAdjust="spacingAndGlyphs" x="1106.8" y="2447.9" textLength="115.7">Ask Dave when free</text></g>
<g id="n195"><text lengthAdjust="spacingAndGlyphs" x="1106" y="2473" textLength="144">Collect pay from Ganesh</text></g>
</g>
</svg>
